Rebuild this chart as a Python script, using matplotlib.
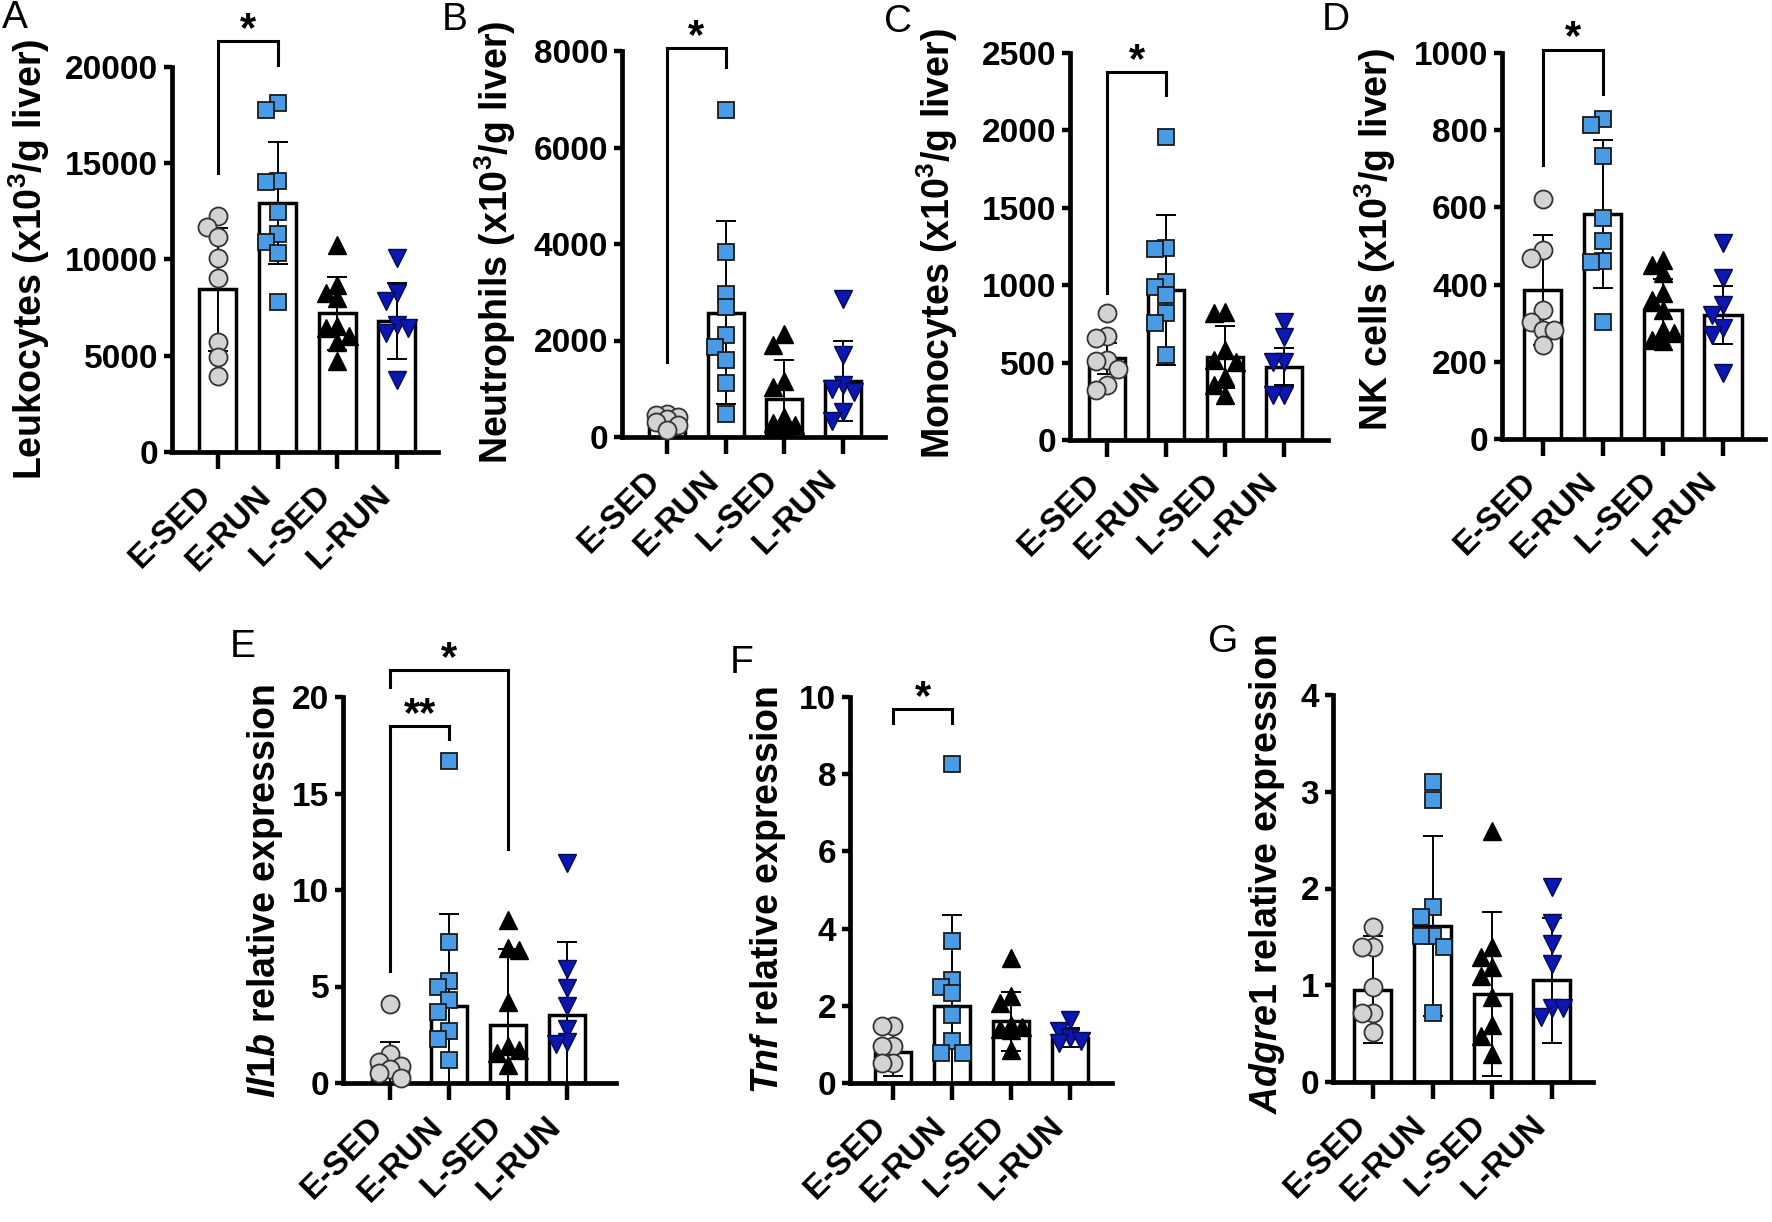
import numpy as np
import matplotlib
matplotlib.use('Agg')
import matplotlib.pyplot as plt

plt.rcParams['font.family'] = ['Liberation Sans', 'DejaVu Sans']
plt.rcParams['font.weight'] = 'bold'
plt.rcParams['mathtext.fontset'] = 'custom'
plt.rcParams['mathtext.it'] = 'Liberation Sans:italic:bold'
plt.rcParams['mathtext.bf'] = 'Liberation Sans:bold'
plt.rcParams['mathtext.rm'] = 'Liberation Sans:bold'

W, H = 1772, 1222

groups = ['E-SED', 'E-RUN', 'L-SED', 'L-RUN']

# A - leukocytes
a_esed = [12280, 11700, 11150, 10060, 9030, 5690, 4960, 3930]
a_erun = [18150, 17760, 14090, 14040, 12450, 11310, 10890, 10320, 7780]
a_lsed = [10750, 8650, 8250, 7990, 6520, 6430, 6000, 5740, 4740]
a_lrun = [10060, 8250, 7820, 6610, 6430, 6170, 3750]
a_mean = [8460, 12920, 7210, 6810]
a_sd = [3200, 3170, 1900, 1990]

# B - neutrophils
b_esed = [480, 450, 410, 380, 310, 250, 140]
b_erun = [6780, 3830, 2970, 2690, 2110, 1870, 1590, 1120, 470]
b_lsed = [2140, 1900, 1170, 1040, 410, 280, 240, 210, 170]
b_lrun = [2870, 1690, 1070, 1000, 930, 520, 330]
b_mean = [345, 2580, 790, 1170]
b_sd = [130, 1890, 810, 830]

# C - monocytes
c_esed = [820, 670, 660, 520, 510, 460, 355, 320]
c_erun = [1955, 1240, 1235, 1020, 990, 935, 820, 755, 550]
c_lsed = [830, 820, 580, 515, 505, 410, 355, 290]
c_lrun = [765, 665, 505, 505, 290, 290]
c_mean = [527, 968, 534, 473]
c_sd = [100, 485, 200, 120]

# D - NK cells
d_esed = [623, 490, 468, 335, 304, 283, 283, 244]
d_erun = [830, 813, 734, 573, 514, 461, 458, 304]
d_lsed = [464, 451, 429, 378, 360, 335, 283, 274, 257, 253]
d_lrun = [507, 417, 348, 322, 287, 270, 170]
d_mean = [386, 582, 335, 322]
d_sd = [142, 192, 80, 75]

# E - Il1b
e_esed = [4.1, 1.5, 1.1, 0.9, 0.7, 0.5, 0.25]
e_erun = [16.7, 7.3, 5.3, 5.0, 4.3, 3.7, 2.7, 2.3, 1.2]
e_lsed = [8.45, 7.0, 6.9, 4.2, 1.9, 1.7, 1.55, 0.95]
e_lrun = [11.4, 5.9, 4.9, 4.0, 2.8, 2.1, 2.0]
e_mean = [0.8, 4.0, 3.0, 3.5]
e_sd = [1.35, 4.75, 3.95, 3.8]

# F - Tnf
f_esed = [1.47, 1.47, 0.97, 0.97, 0.52, 0.52]
f_erun = [8.27, 3.67, 2.68, 2.5, 2.33, 1.77, 1.08, 0.78, 0.78]
f_lsed = [3.24, 2.25, 2.07, 1.51, 1.45, 1.4, 1.38, 0.86]
f_lrun = [1.64, 1.34, 1.17, 1.08, 1.04]
f_mean = [0.8, 2.0, 1.6, 1.17]
f_sd = [0.62, 2.35, 0.77, 0.25]

# G - Adgre1
g_esed = [1.60, 1.40, 1.40, 0.98, 0.71, 0.71, 0.52]
g_erun = [3.10, 2.91, 1.81, 1.71, 1.51, 1.51, 1.40, 0.71]
g_lsed = [2.59, 1.40, 1.29, 1.19, 1.10, 0.88, 0.59, 0.48, 0.29]
g_lrun = [2.02, 1.64, 1.43, 1.22, 0.76, 0.76, 0.67]
g_mean = [0.955, 1.61, 0.91, 1.05]
g_sd = [0.55, 0.93, 0.85, 0.65]

# significance brackets: (group i, group j, top, left leg end, right leg end, label)
a_sig = [(0, 1, 21350, 14470, 20090, '*')]
b_sig = [(0, 1, 8070, 1550, 7670, '*')]
c_sig = [(0, 1, 2377, 951, 2227, '*')]
d_sig = [(0, 1, 1009, 709, 894, '*')]
e_sig = [(0, 1, 18.5, 5.8, 17.8, '**'), (0, 2, 21.4, 20.5, 12.15, '*')]
f_sig = [(0, 1, 9.7, 9.33, 9.33, '*')]
g_sig = []

styles = [
    dict(marker='o', ms=13, mfc='#d3d3d3', mec='#333333', mew=1.3),
    dict(marker='s', ms=11.5, mfc='#4a9be6', mec='#1a1a1a', mew=1.3),
    dict(marker='^', ms=13, mfc='black', mec='black', mew=1.0),
    dict(marker='v', ms=13, mfc='#0b17b0', mec='#050a50', mew=1.0),
]


def px_axes(fig, box):
    l, t, r, b = box
    return fig.add_axes([l / W, 1 - b / H, (r - l) / W, (b - t) / H])


def swarm(ax, xc, vals, step=0.19, min_px=12):
    # scatter points side by side when they would overlap, GraphPad style
    placed, xs = [], []
    for v in vals:
        best, best_d = None, -1
        for k in [0, -1, 1]:
            x = xc + k * step
            p = ax.transData.transform((x, v))
            d = min([np.hypot(*(p - q)) for q in placed], default=1e9)
            if d >= min_px:
                best = (x, p)
                break
            if d > best_d:
                best, best_d = (x, p), d
        placed.append(best[1])
        xs.append(best[0])
    return xs


def panel(ax, data, mean, sd, yticks, xlim, sig):
    x = np.arange(len(groups))
    ax.set_xlim(*xlim)
    ax.set_ylim(yticks[0], yticks[-1])
    ax.bar(x, mean, width=0.62, color='white', edgecolor='black', linewidth=2.5, zorder=1)
    ax.errorbar(x, mean, yerr=sd, fmt='none', ecolor='black', elinewidth=1.4,
                capsize=7, capthick=1.4, zorder=2)
    for i, vals in enumerate(data):
        vals = sorted(vals, reverse=True)
        xs = swarm(ax, i, vals)
        ax.plot(xs, vals, linestyle='none', zorder=3, clip_on=False, **styles[i])
    for i, j, top, lb, rb, lab in sig:
        ax.plot([i, i, j, j], [lb, top, top, rb], color='black', lw=2.2,
                clip_on=False, solid_joinstyle='miter')
        ax.text((i + j) / 2, top, lab, ha='center', va='baseline', fontsize=30,
                fontweight='bold', clip_on=False)
    ax.spines[['top', 'right']].set_visible(False)
    for s in ['left', 'bottom']:
        ax.spines[s].set_linewidth(3.4)
    ax.set_xticks(x)
    ax.set_xticklabels(groups, rotation=45, ha='right', va='top')
    ax.set_yticks(yticks)
    ax.tick_params(axis='y', length=6, width=3.2, labelsize=24, pad=4)
    ax.tick_params(axis='x', length=12, width=3.2, labelsize=24, pad=8)


fig = plt.figure(figsize=(W / 100, H / 100), dpi=100)

panels = [
    ((172, 67, 438, 452), (-0.77, 3.69), [a_esed, a_erun, a_lsed, a_lrun], a_mean, a_sd,
     np.arange(0, 20001, 5000), a_sig),
    ((622, 51, 885, 437), (-0.77, 3.72), [b_esed, b_erun, b_lsed, b_lrun], b_mean, b_sd,
     np.arange(0, 8001, 2000), b_sig),
    ((1070, 53, 1328, 440), (-0.63, 3.75), [c_esed, c_erun, c_lsed, c_lrun], c_mean, c_sd,
     np.arange(0, 2501, 500), c_sig),
    ((1502, 53, 1765, 439), (-0.68, 3.70), [d_esed, d_erun, d_lsed, d_lrun], d_mean, d_sd,
     np.arange(0, 1001, 200), d_sig),
    ((343, 697, 616, 1083), (-0.80, 3.83), [e_esed, e_erun, e_lsed, e_lrun], e_mean, e_sd,
     np.arange(0, 21, 5), e_sig),
    ((850, 697, 1112, 1083), (-0.73, 3.71), [f_esed, f_erun, f_lsed, f_lrun], f_mean, f_sd,
     np.arange(0, 11, 2), f_sig),
    ((1333, 695, 1593, 1082), (-0.67, 3.69), [g_esed, g_erun, g_lsed, g_lrun], g_mean, g_sd,
     np.arange(0, 5, 1), g_sig),
]

for box, xlim, data, mean, sd, yt, sig in panels:
    ax = px_axes(fig, box)
    panel(ax, data, mean, sd, yt, xlim, sig)

# y labels (baseline x, centre y in pixels)
ylabels = [
    (42, 259, r'Leukocytes (x10$^{\mathbf{3}}$/g liver)'),
    (508, 242, r'Neutrophils (x10$^{\mathbf{3}}$/g liver)'),
    (950, 244, r'Monocytes (x10$^{\mathbf{3}}$/g liver)'),
    (1388, 240, r'NK cells (x10$^{\mathbf{3}}$/g liver)'),
    (275, 891, r'$\mathit{Il1b}$ relative expression'),
    (778, 890, r'$\mathit{Tnf}$ relative expression'),
    (1277, 874, r'$\mathit{Adgre1}$ relative expression'),
]
for x, y, s in ylabels:
    fig.text(x / W, 1 - y / H, s, rotation=90, rotation_mode='anchor', ha='center',
             va='baseline', fontsize=27, fontweight='bold')

# panel letters (left x, baseline y in pixels)
letters = [(2, 28, 'A'), (442, 30, 'B'), (884, 32, 'C'), (1322, 30, 'D'),
           (230, 657, 'E'), (730, 673, 'F'), (1208, 652, 'G')]
for x, y, s in letters:
    fig.text(x / W, 1 - y / H, s, ha='left', va='baseline', fontsize=28, fontweight='normal')

fig.savefig('out.png', dpi=100)
